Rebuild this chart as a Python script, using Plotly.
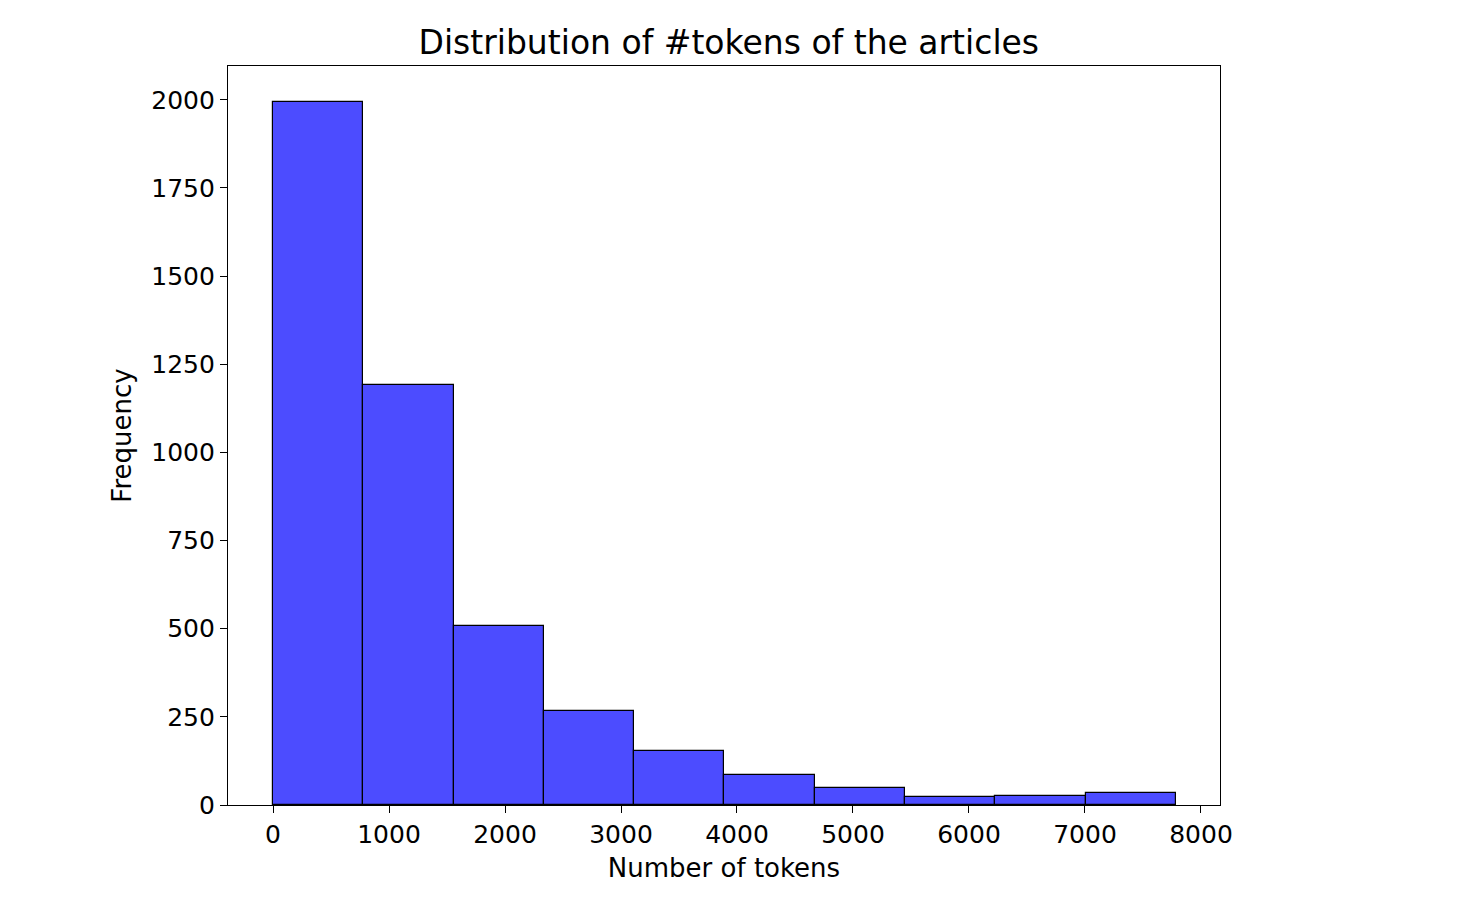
import plotly.graph_objects as go

bin_start = 0
bin_width = 778.4
counts = [1995, 1191, 508, 267, 153, 85, 48, 23, 26, 34]
x_ticks = [0, 1000, 2000, 3000, 4000, 5000, 6000, 7000, 8000]
y_ticks = [0, 250, 500, 750, 1000, 1250, 1500, 1750, 2000]

centers = [bin_start + bin_width * (i + 0.5) for i in range(len(counts))]

fig = go.Figure(go.Bar(
    x=centers, y=counts, width=[bin_width] * len(counts),
    marker=dict(color="rgba(0,0,255,0.7)", line=dict(color="black", width=1.2)),
))
axis_common = dict(showline=True, linecolor="black", linewidth=1.2, mirror=True,
                   ticks="outside", ticklen=7, tickcolor="black", showgrid=False,
                   zeroline=False, tickfont=dict(size=25, color="black"))
fig.update_layout(
    width=1480, height=912, plot_bgcolor="white", paper_bgcolor="white",
    font=dict(family="DejaVu Sans", color="black"),
    margin=dict(l=220, r=268, t=58, b=115),
    title=dict(text="Distribution of #tokens of the articles", x=0.487, xanchor="center",
               y=0.962, yanchor="middle", font=dict(size=33)),
    xaxis=dict(range=[-388, 8164], tickvals=x_ticks,
               title=dict(text="Number of tokens", font=dict(size=26), standoff=10), **axis_common),
    yaxis=dict(range=[0, 2096], tickvals=y_ticks,
               title=dict(text="Frequency", font=dict(size=26), standoff=12), **axis_common),
    showlegend=False, bargap=0,
)
fig.write_html("out.html")
